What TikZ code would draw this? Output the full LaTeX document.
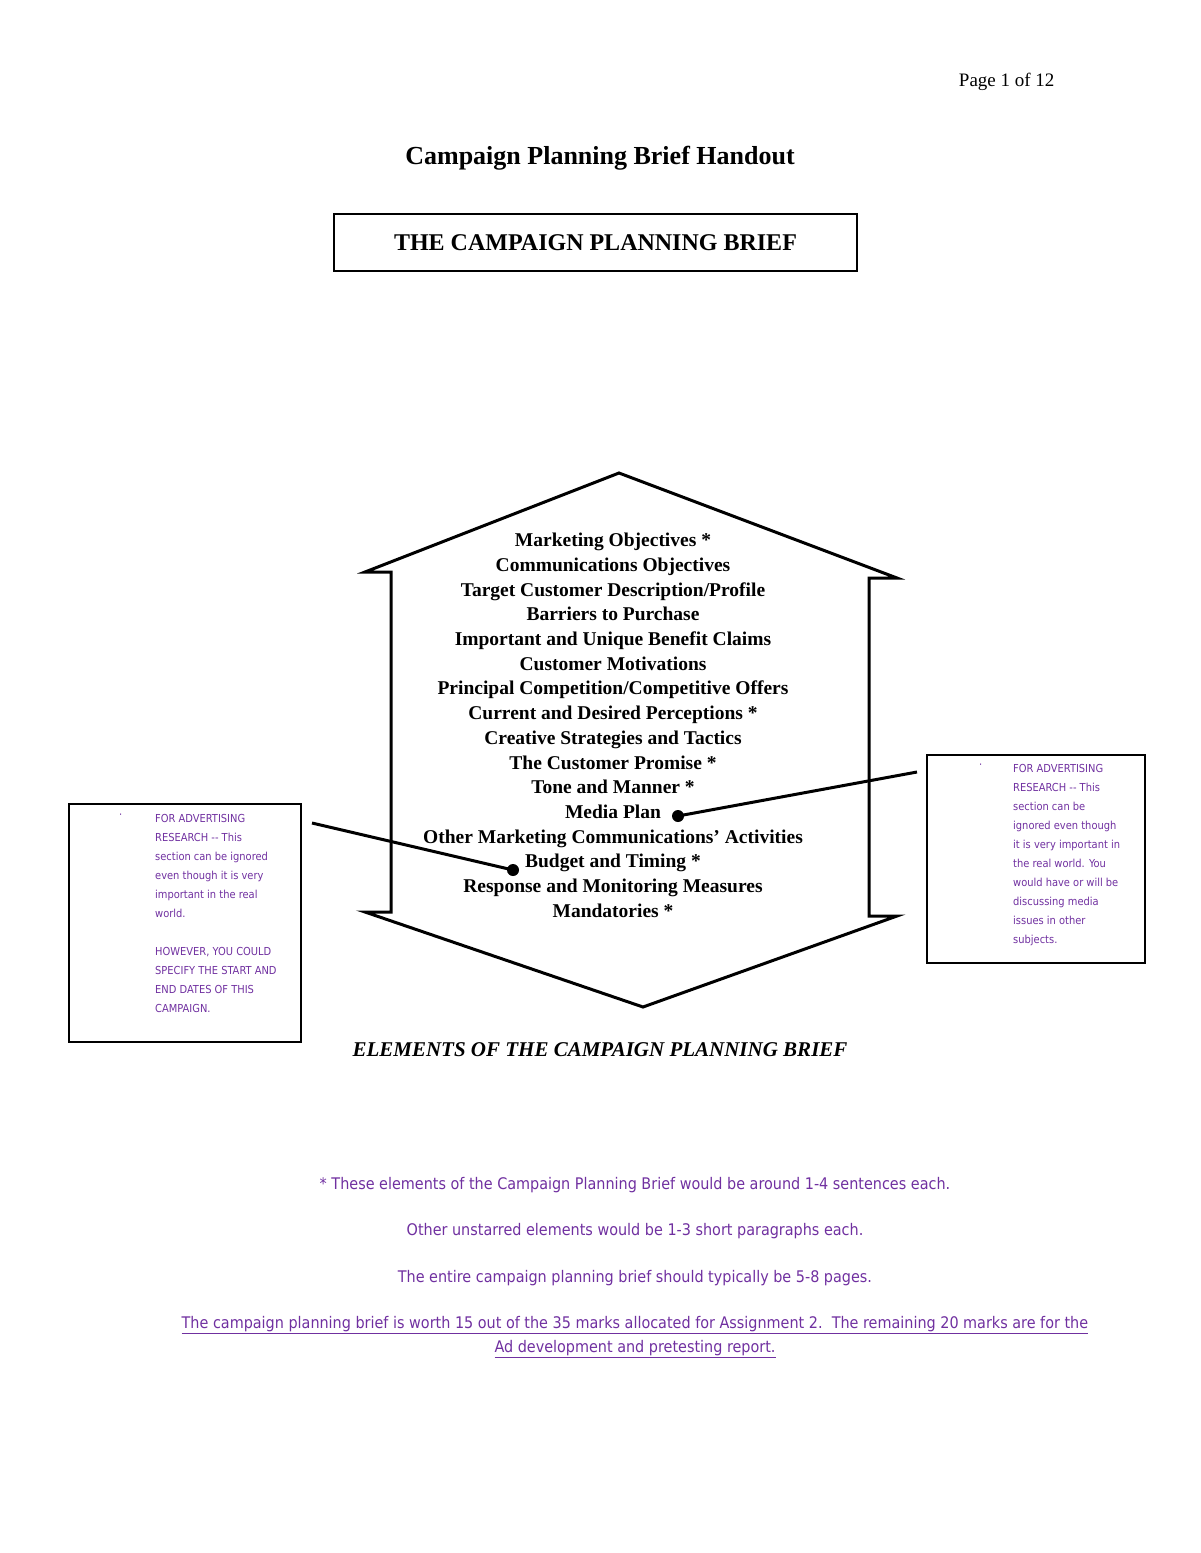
\documentclass[tikz,border=0pt]{standalone}
\usepackage{fontspec}
\setmainfont{Liberation Serif}
\newfontfamily\narrowf{DejaVu Sans Condensed}
\usepackage{xcolor}
\definecolor{purp}{RGB}{112,48,160}
\begin{document}
\begin{tikzpicture}[x=1pt,y=-1pt,
  note/.style={anchor=north west,align=left,text=purp,font=\narrowf\fontsize{11}{19}\selectfont,inner sep=0},
  foot/.style={text=purp,font=\narrowf\fontsize{16}{24}\selectfont,inner sep=0},
  frame/.style={draw,line width=2.2pt}]
\useasboundingbox (0,0) rectangle (1200,1553);
\node[anchor=east,font=\fontsize{19}{22}\selectfont] (pg) at (1058,82) {Page 1 of 12};
\node[font=\bfseries\fontsize{26}{30}\selectfont] (title) at (600,158) {Campaign Planning Brief Handout};
\node[frame,minimum width=523pt,minimum height=57pt,font=\bfseries\fontsize{24}{28}\selectfont] (brief) at (595.5,242.5) {THE CAMPAIGN PLANNING BRIEF};
\draw[line width=3pt,line join=miter] (619,473) -- (897,578) -- (869,578) -- (869,916) -- (897,916) -- (643,1007) -- (365,912) -- (391,912) -- (391,572) -- (365,572) -- cycle;
\node[align=center,font=\bfseries\fontsize{19.5}{24.7}\selectfont,inner sep=0,anchor=north] (list) at (613,533) {Marketing Objectives *\\Communications Objectives\\Target Customer Description/Profile\\Barriers to Purchase\\Important and Unique Benefit Claims\\Customer Motivations\\Principal Competition/Competitive Offers\\Current and Desired Perceptions *\\Creative Strategies and Tactics\\The Customer Promise *\\Tone and Manner *\\Media Plan\\Other Marketing Communications' Activities\\Budget and Timing *\\Response and Monitoring Measures\\Mandatories *};
\node[frame,minimum width=232pt,minimum height=238pt] (lbox) at (185,923) {};
\node[frame,minimum width=218pt,minimum height=208pt] (rbox) at (1036,859) {};
\node[note] (ldot) at (119,814) {\textperiodcentered};
\node[note] (ltext) at (155,814) {FOR ADVERTISING\\RESEARCH -- This\\section can be ignored\\even though it is very\\important in the real\\world.\\[19pt]HOWEVER, YOU COULD\\SPECIFY THE START AND\\END DATES OF THIS\\CAMPAIGN.};
\node[note] (rdot) at (979,764) {\textperiodcentered};
\node[note] (rtext) at (1013,764) {FOR ADVERTISING\\RESEARCH -- This\\section can be\\ignored even though\\it is very important in\\the real world. You\\would have or will be\\discussing media\\issues in other\\subjects.};
\coordinate (l1) at (312,823); \coordinate (d1) at (513,870);
\coordinate (r1) at (917,772); \coordinate (d2) at (678,816);
\draw[line width=3pt] (l1) -- (d1); \fill (d1) circle (6pt);
\draw[line width=3pt] (r1) -- (d2); \fill (d2) circle (6pt);
\node[font=\bfseries\itshape\fontsize{21}{24}\selectfont] (cap) at (600,1050) {ELEMENTS OF THE CAMPAIGN PLANNING BRIEF};
\node[foot] (f1) at (635,1185) {* These elements of the Campaign Planning Brief would be around 1-4 sentences each.};
\node[foot] (f2) at (635,1231) {Other unstarred elements would be 1-3 short paragraphs each.};
\node[foot] (f3) at (635,1278) {The entire campaign planning brief should typically be 5-8 pages.};
\node[foot] (f4) at (635,1325) {\underline{The campaign planning brief is worth 15 out of the 35 marks allocated for Assignment 2.\ \ The remaining 20 marks are for the}};
\node[foot] (f5) at (635,1349) {\underline{Ad development and pretesting report.}};
\end{tikzpicture}
\end{document}
